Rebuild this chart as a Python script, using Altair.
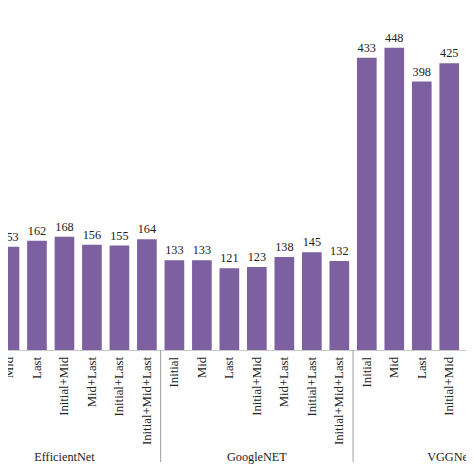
import altair as alt
import pandas as pd

# ---- data (cropped view) ----
groups = ["EfficientNet", "GoogleNET", "VGGNet"]
variants = ["Initial", "Mid", "Last", "Initial+Mid", "Mid+Last", "Initial+Last", "Initial+Mid+Last"]
efficientnet_values = [None, 153, 162, 168, 156, 155, 164]   # first bar is outside the crop
googlenet_values = [133, 133, 121, 123, 138, 145, 132]
vggnet_values = [433, 448, 398, 425, None, None, None]        # remaining bars outside the crop

series = [efficientnet_values, googlenet_values, vggnet_values]
n_var = len(variants)

rows = []
for gi, (g, vals) in enumerate(zip(groups, series)):
    for vi, (v, val) in enumerate(zip(variants, vals)):
        if val is None:
            continue
        rows.append({"group": g, "variant": v, "pos": gi * n_var + vi, "value": val})
df = pd.DataFrame(rows)

sep_df = pd.DataFrame({"pos": [(gi + 1) * n_var - 0.5 for gi in range(len(groups) - 1)]})
grp_df = pd.DataFrame({"group": groups, "pos": [gi * n_var + (n_var - 1) / 2 for gi in range(len(groups))]})

PURPLE = "#7d60a0"
FONT = "Liberation Serif"
TEXT = "#222222"
W, H, BOTTOM = 466, 344, 114

xscale = alt.Scale(domain=[1.125, 17.43], nice=False, zero=False)

x_axis = alt.X(
    "pos:Q", scale=xscale, title=None,
    axis=alt.Axis(labels=False, ticks=False, tickSize=0, grid=False,
                  domainColor="#c8c8c8", domainWidth=1),
)
x_plain = alt.X("pos:Q", scale=xscale)
y_enc = alt.Y("value:Q", scale=alt.Scale(domain=[0, 501], nice=False), axis=None)

bars = alt.Chart(df).mark_bar(size=20, color=PURPLE, clip=True).encode(x=x_axis, y=y_enc)

values_text = alt.Chart(df).mark_text(
    dy=-6, baseline="alphabetic", align="center", font=FONT, fontSize=12.5, color=TEXT
).encode(x=x_plain, y=y_enc, text="value:Q")

category_text = alt.Chart(df).mark_text(
    angle=270, align="right", baseline="middle", font=FONT, fontSize=13, color=TEXT
).encode(x=x_plain, y=alt.value(H + 7), text="variant:N")

separators = alt.Chart(sep_df).mark_rule(color="#9a9a9a", strokeWidth=1).encode(
    x=x_plain, y=alt.value(H), y2=alt.value(H + BOTTOM)
)

group_text = alt.Chart(grp_df).mark_text(
    baseline="alphabetic", align="center", font=FONT, fontSize=12.5, color=TEXT
).encode(x=x_plain, y=alt.value(H + BOTTOM - 1), text="group:N")

chart = alt.layer(bars, values_text, category_text, separators, group_text).properties(
    width=W, height=H,
    padding={"left": 0, "top": 0, "right": 0, "bottom": BOTTOM},
    autosize=alt.AutoSizeParams(type="none"),
).configure_view(strokeWidth=0)

chart.save("out.html", embed_options={"renderer": "svg", "actions": False})
